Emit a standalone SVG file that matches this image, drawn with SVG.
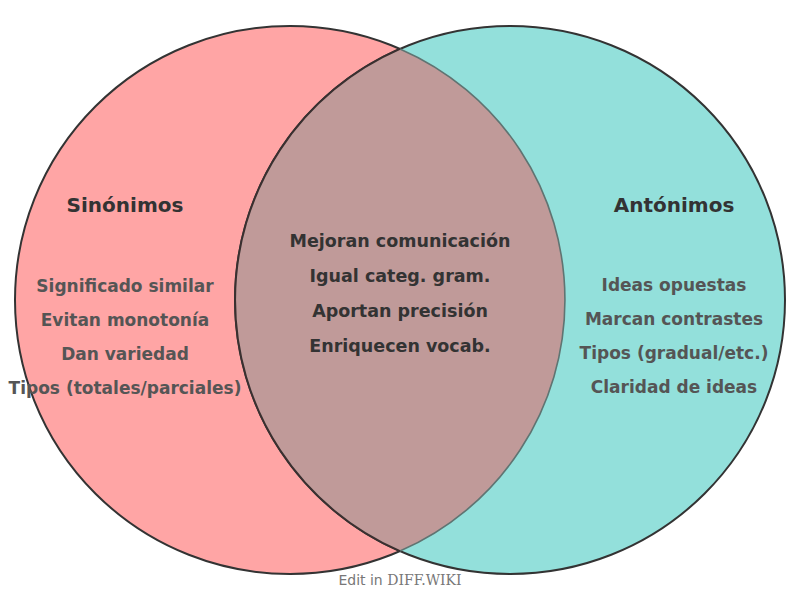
<svg xmlns="http://www.w3.org/2000/svg" width="800" height="600" viewBox="0 0 800 600">
<style>
.title{font-family:"DejaVu Sans","Liberation Sans",sans-serif;font-weight:bold;font-size:20px;fill:#333;text-anchor:middle}
.item{font-family:"DejaVu Sans","Liberation Sans",sans-serif;font-weight:bold;font-size:17px;fill:#555;text-anchor:middle}
.citem{font-family:"DejaVu Sans","Liberation Sans",sans-serif;font-weight:bold;font-size:17.5px;fill:#333;text-anchor:middle}
.foot{font-size:14px;fill:#777;text-anchor:middle}
</style>
<rect width="800" height="600" fill="#fff"/>
<g id="sinonimos">
<ellipse cx="290" cy="300" rx="275" ry="274" fill="#FFA5A5" stroke="#333" stroke-width="2"/>
</g>
<g id="antonimos">
<ellipse cx="510" cy="300" rx="275" ry="274" fill="#93E0DB" stroke="#333" stroke-width="2"/>
</g>
<g id="interseccion">
<path d="M400 48.9 A275 274 0 0 1 400 551.1 A275 274 0 0 1 400 48.9 Z" fill="#C09A99"/>
<path d="M400 48.9 A275 274 0 0 1 400 551.1" fill="none" stroke="#5f7472" stroke-width="1.6"/>
<path d="M400 551.1 A275 274 0 0 1 400 48.9" fill="none" stroke="#3a3030" stroke-width="2"/>
</g>
<g id="textos-sinonimos">
<text class="title" x="125" y="212">Sinónimos</text>
<text class="item" x="125" y="292">Significado similar</text>
<text class="item" x="125" y="326">Evitan monotonía</text>
<text class="item" x="125" y="360">Dan variedad</text>
<text class="item" x="125" y="394">Tipos (totales/parciales)</text>
</g>
<g id="textos-antonimos">
<text class="title" x="674" y="212">Antónimos</text>
<text class="item" x="674" y="291">Ideas opuestas</text>
<text class="item" x="674" y="325">Marcan contrastes</text>
<text class="item" x="674" y="359">Tipos (gradual/etc.)</text>
<text class="item" x="674" y="393">Claridad de ideas</text>
</g>
<g id="textos-comunes">
<text class="citem" x="400" y="247">Mejoran comunicación</text>
<text class="citem" x="400" y="282">Igual categ. gram.</text>
<text class="citem" x="400" y="317">Aportan precisión</text>
<text class="citem" x="400" y="352">Enriquecen vocab.</text>
</g>
<text class="foot" x="400" y="585"><tspan font-family="DejaVu Sans, sans-serif">Edit in </tspan><tspan font-family="DejaVu Serif, serif">DIFF.WIKI</tspan></text>
</svg>
